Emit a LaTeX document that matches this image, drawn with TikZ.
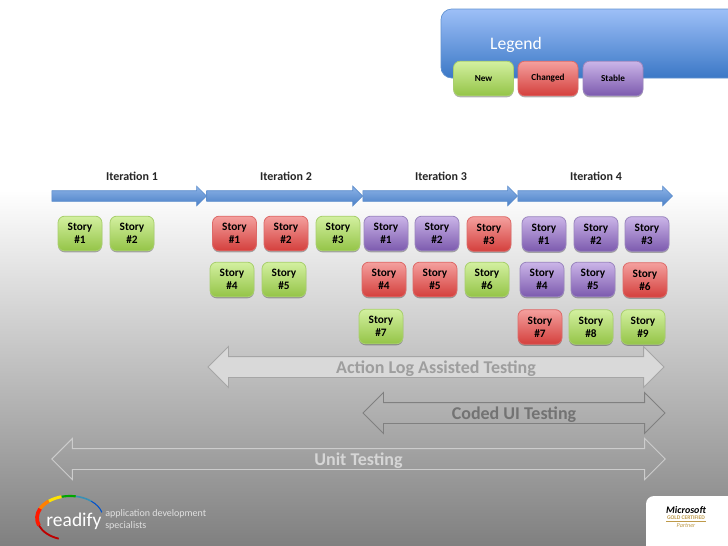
\documentclass[tikz,border=0pt]{standalone}
\usepackage{fontspec}
\setmainfont{Carlito}
\usetikzlibrary{shapes.arrows,shadows,calc}

\definecolor{newtop}{HTML}{D3F0A0}
\definecolor{newbot}{HTML}{94C447}
\definecolor{newline}{HTML}{A9CF6E}
\definecolor{chgtop}{HTML}{F4A09E}
\definecolor{chgbot}{HTML}{D43F3C}
\definecolor{chgline}{HTML}{DD6A68}
\definecolor{stbtop}{HTML}{CBB5E8}
\definecolor{stbbot}{HTML}{7C5AAE}
\definecolor{stbline}{HTML}{9A86BE}
\definecolor{gold}{HTML}{BE9A4A}
\definecolor{iterup}{HTML}{8DB3E6}
\definecolor{iterdown}{HTML}{4A80C8}
\definecolor{iterline}{HTML}{5B8CCB}
\definecolor{legup}{HTML}{9DBFF7}
\definecolor{legdown}{HTML}{3B78C6}

\tikzset{
  tile/.style={rounded corners=5pt,draw,line width=.6pt,text=black,align=center,
    font=\fontsize{8.5}{10}\selectfont\bfseries,
    drop shadow={shadow xshift=0pt,shadow yshift=-1.1pt,opacity=.3,fill=black}},
  storybox/.style={tile,minimum width=33pt,minimum height=26pt,inner sep=0pt},
  legendbox/.style={tile,minimum width=45pt,minimum height=26pt,inner sep=0pt,
    font=\fontsize{6.9}{8}\selectfont\bfseries},
  new/.style={top color=newtop,bottom color=newbot,draw=newline},
  chg/.style={top color=chgtop,bottom color=chgbot,draw=chgline},
  stb/.style={top color=stbtop,bottom color=stbbot,draw=stbline},
  iterlabel/.style={font=\fontsize{9}{10}\selectfont\bfseries,text=black!85},
  iterarrow/.style={single arrow,single arrow head extend=3.4pt,inner sep=0pt,
    text height=7.5pt,text depth=0pt,text width=0pt,
    top color=iterup,bottom color=iterdown,draw=iterline,line width=.5pt},
  testarrow/.style={double arrow,double arrow head extend=7.5pt,inner xsep=0pt,inner ysep=0pt,
    text height=12.5pt,text depth=2.5pt,line width=.7pt,
    font=\fontsize{13.5}{14}\selectfont\bfseries},
}

\begin{document}
\begin{tikzpicture}[x=0.75pt,y=-0.75pt]
\useasboundingbox (0,0) rectangle (728,546);

% background
\fill[white] (0,0) rectangle (728,190);
\shade[top color=white,bottom color=black!50] (0,190) rectangle (728,546);

% legend
\shade[top color=legup,bottom color=legdown,draw=legdown!80!white,
  line width=.5pt] (728,78) [rounded corners=8pt] -- (441,78) -- (441,9) [sharp corners] -- (728,9);
\node[text=white,font=\fontsize{13.2}{14}\selectfont] (legend) at (516,45) {Legend};
\node[legendbox,new] (lnew) at (483.5,78.5) {New};
\node[legendbox,chg] (lchg) at (548,78.5) {Changed};
\node[legendbox,stb] (lstb) at (613,78.5) {Stable};

% iterations
\node[iterlabel] (t1) at (132,176) {Iteration 1};
\node[iterlabel] (t2) at (286,176) {Iteration 2};
\node[iterlabel] (t3) at (441,176) {Iteration 3};
\node[iterlabel] (t4) at (596,176) {Iteration 4};

\node[iterarrow,minimum height=116pt] (a1) at (126.5,196) {};
\node[iterarrow,minimum height=117pt] (a2) at (282,196) {};
\node[iterarrow,minimum height=116pt] (a3) at (437.5,196) {};
\node[iterarrow,minimum height=116pt] (a4) at (592.5,196) {};

% stories
\foreach \nm/\px/\py/\kind/\num in {
  ia/80/233.5/new/1, ib/132/233.5/new/2,
  iia/234.5/233.5/chg/1, iib/286/233.5/chg/2, iic/338/233.5/new/3,
  iid/232/279.5/new/4, iie/284/279.5/new/5,
  iiia/386/233.5/stb/1, iiib/437/233.5/stb/2, iiic/489/234/chg/3,
  iiid/384/279.5/chg/4, iiie/435/279.5/chg/5, iiif/487/279.5/new/6,
  iiig/381/326.5/new/7,
  iva/544/234/stb/1, ivb/596/234/stb/2, ivc/647/234/stb/3,
  ivd/542/279.5/stb/4, ive/593/279.5/stb/5, ivf/645/280/chg/6,
  ivg/540/327/chg/7, ivh/591/327/new/8, ivi/643/327/new/9}
  \node[storybox,\kind] (\nm) at (\px,\py) {Story\\\#\num};

% test ranges
\node[testarrow,fill=black!15,draw=black!35,text=black!38,minimum height=342pt] (action) at (436,367) {Action Log Assisted Testing};
\node[testarrow,draw=black!50,text=black!55,minimum height=226.5pt] (coded) at (514,413) {Coded UI Testing};
\node[testarrow,draw=black!20,text=black!16,minimum height=460pt] (unit) at (358.5,459) {Unit Testing};

% logo
\foreach \sa/\ea/\wd/\clr in {-15/-50/.8/blue!60!cyan!80!black, -50/-80/1.2/cyan!70!black, -80/-105/1.6/green!65!black,
  -105/-130/2.2/yellow!85!orange, -130/-155/2.6/orange, -155/-200/2.8/red!80!orange, -200/-250/1.4/red!75!black}
  \draw[\clr,line width=\wd pt] ($(70,518)+(\sa:33 and 22)$) arc[start angle=\sa,end angle=\ea,x radius=33,y radius=22];
\node[text=white,font=\fontsize{14.6}{16}\selectfont,inner sep=0pt] (readify) at (74,521) {readify};
\node[text=black!12,font=\fontsize{7.5}{9}\selectfont,align=left,anchor=west,inner sep=0pt] (tagline) at (105,520) {application development\\specialists};

% partner badge
\fill[white] (728,546) -- (646,546) [rounded corners=6pt] -- (646,496) [sharp corners] -- (728,496) -- cycle;
\node[text=black,font=\fontsize{7.5}{9}\selectfont\bfseries\itshape,inner sep=0pt] (ms) at (686,510) {Microsoft};
\node[text=gold,font=\fontsize{4.2}{5}\selectfont\bfseries,inner sep=0pt] (gold) at (686,517.5) {GOLD CERTIFIED};
\draw[gold,line width=.3pt] (666,521.5) -- (706,521.5);
\node[text=gold,font=\fontsize{4.6}{5}\selectfont\itshape,inner sep=0pt] (partner) at (686,526) {Partner};
\end{tikzpicture}
\end{document}
